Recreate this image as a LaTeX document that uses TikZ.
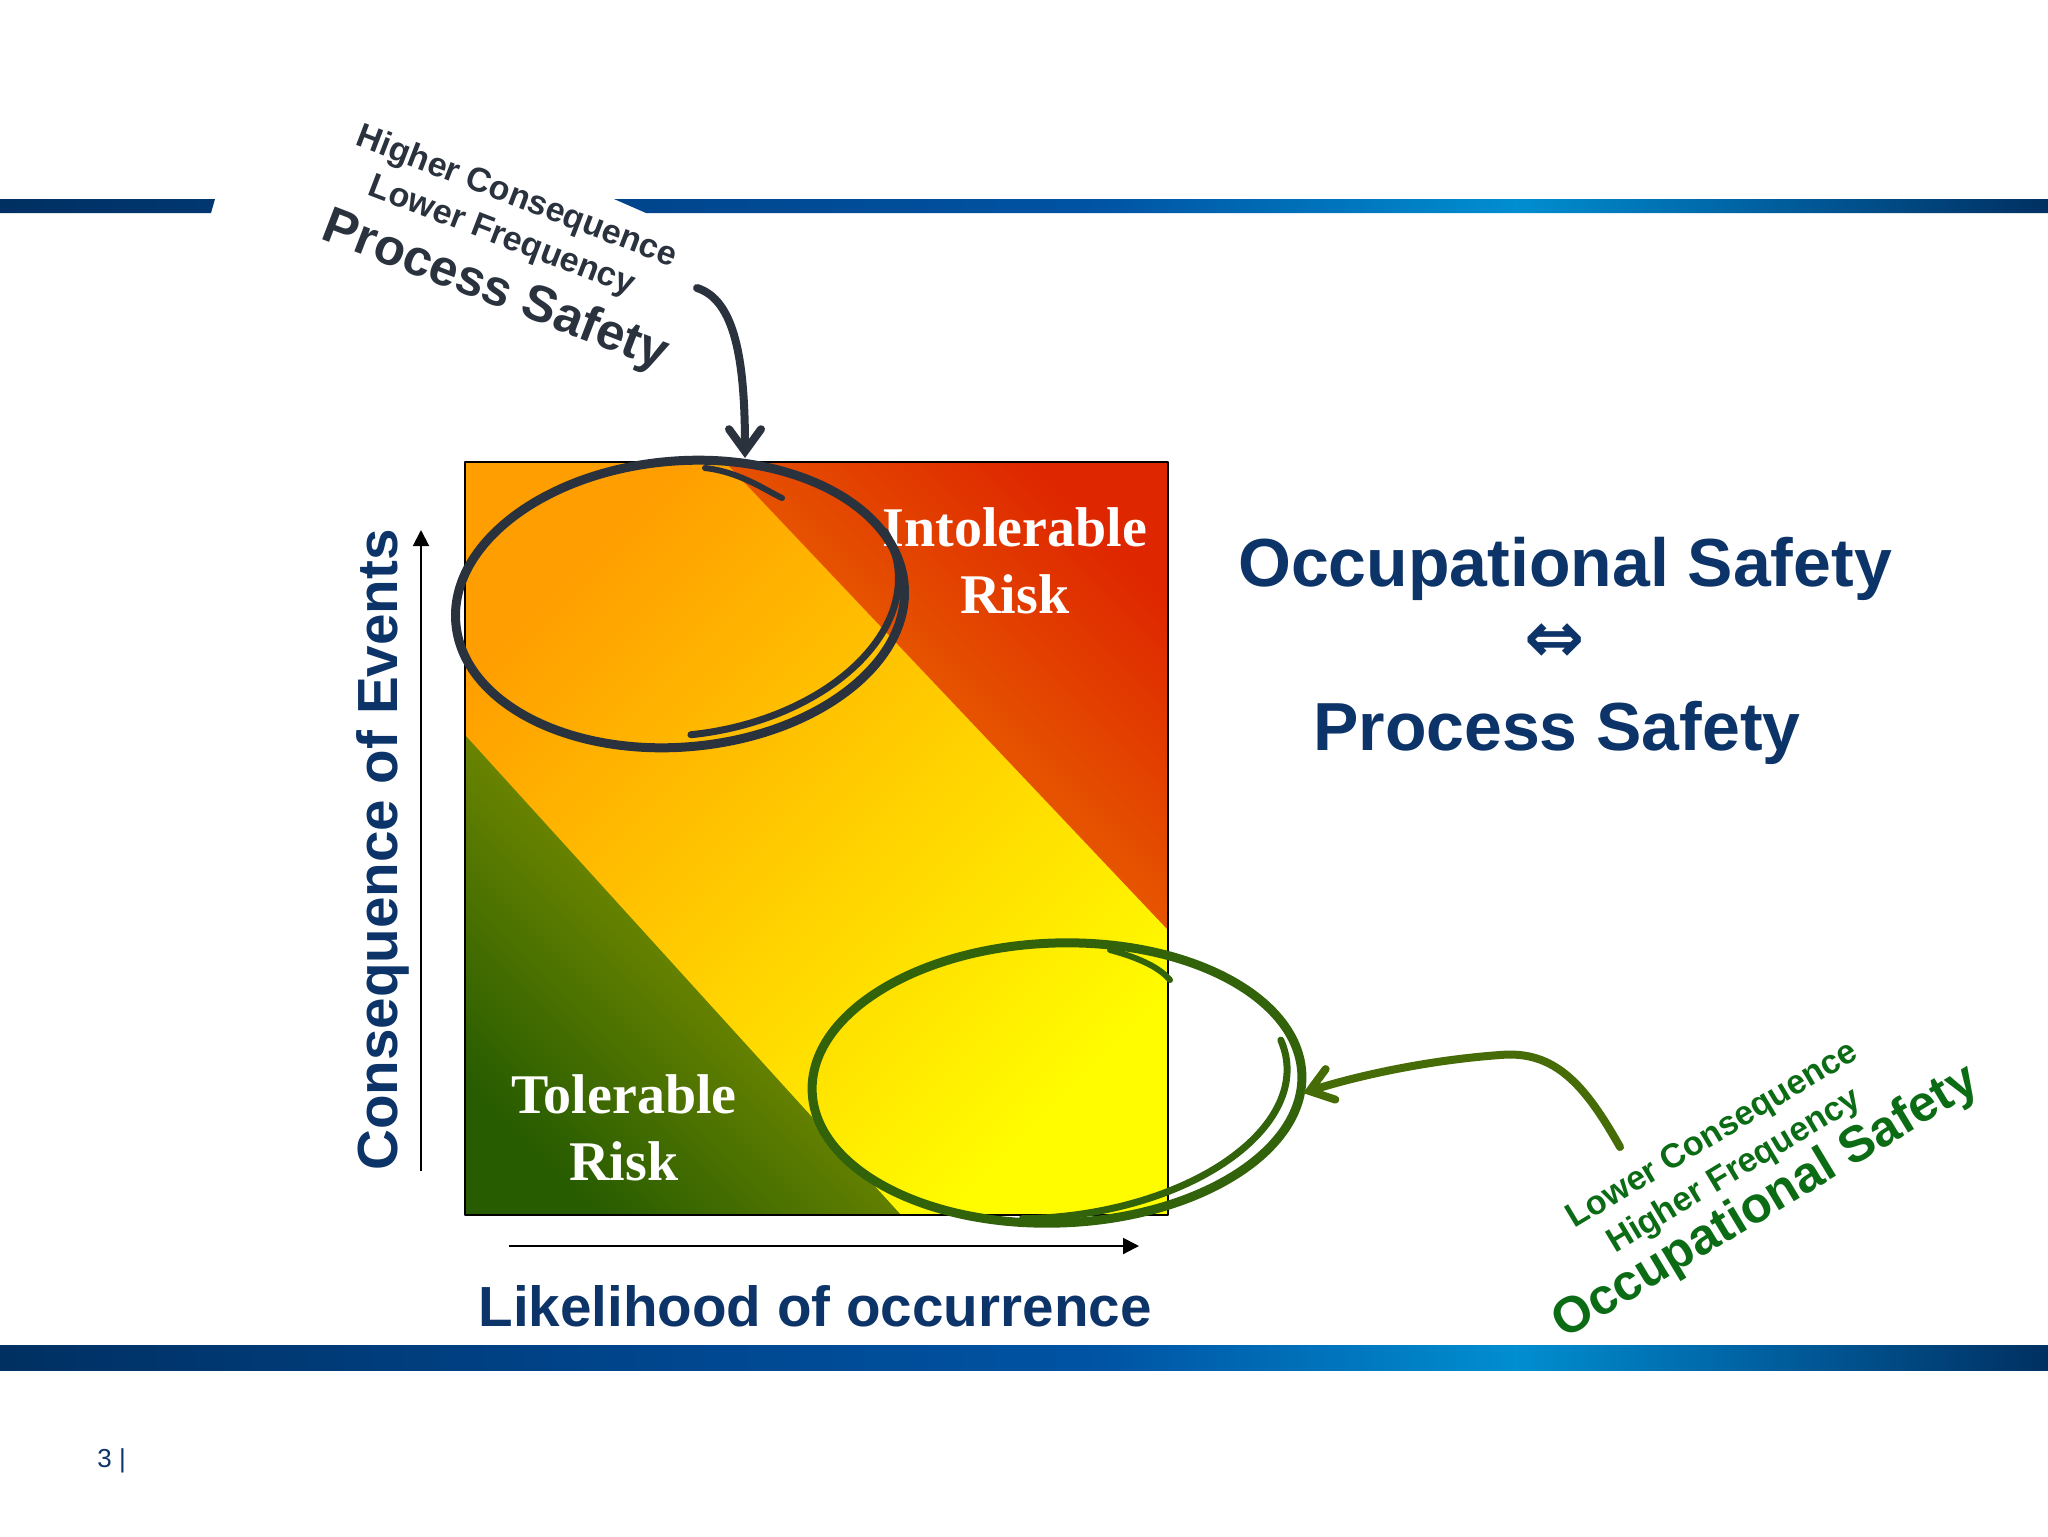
\documentclass[tikz,border=0pt]{standalone}
\usepackage{fontspec}
\setmainfont{Liberation Sans}
\newfontfamily\riskfont{Liberation Serif}
\newfontfamily\dvfont{DejaVu Sans}
\usetikzlibrary{arrows.meta,positioning}
\definecolor{slidenavy}{RGB}{12,52,104}
\definecolor{psdark}{RGB}{42,50,62}
\definecolor{osgreen}{RGB}{50,98,10}
\definecolor{osarrow}{RGB}{70,108,8}
\definecolor{ostext}{RGB}{12,108,22}
\definecolor{grndark}{RGB}{40,92,0}
\definecolor{grnolive}{RGB}{162,166,0}
\definecolor{redorange}{RGB}{238,128,0}
\definecolor{redcorner}{RGB}{222,38,0}
\definecolor{midorange}{RGB}{255,158,0}
\definecolor{midyellow}{RGB}{255,252,0}
\definecolor{bandA}{RGB}{0,48,98}
\definecolor{bandB}{RGB}{0,70,142}
\definecolor{bandC}{RGB}{0,84,164}
\definecolor{bandD}{RGB}{0,142,208}
\definecolor{bandE}{RGB}{0,96,160}
\pgfdeclarehorizontalshading{bandgrad}{100bp}{color(0bp)=(bandA); color(25bp)=(bandA); color(41bp)=(bandB); color(52bp)=(bandC); color(62bp)=(bandD); color(68bp)=(bandE); color(75bp)=(bandA); color(100bp)=(bandA)}

\begin{document}
\begin{tikzpicture}[x=0.5pt, y=0.5pt, line join=round]
\tikzstyle{title}=[font=\fontsize{34}{40}\selectfont\bfseries, text=slidenavy, inner sep=0pt]
\tikzstyle{axislabel}=[font=\fontsize{28.3}{32}\selectfont\bfseries, text=slidenavy, inner sep=0pt]
\tikzstyle{risk}=[font=\riskfont\fontsize{28}{33.5}\selectfont\bfseries, text=white, align=center, inner sep=0pt]
\tikzstyle{note}=[font=\fontsize{17}{21}\selectfont\bfseries, align=center, inner sep=0pt]
\tikzstyle{ring}=[line width=4.5pt, line cap=round]
\tikzstyle{pointer}=[line width=4pt, line cap=round, -{Straight Barb[length=11pt, width=16pt, line cap=round]}]
\tikzstyle{axis}=[line width=1pt, -{Triangle[length=8pt, width=8pt]}]
\useasboundingbox (0,0) rectangle (2048,-1536);
\fill[white] (0,0) rectangle (2048,-1536);
\shade[shading=bandgrad] (0,-199) -- (215,-199) -- (211,-213) -- (0,-213) -- cycle
  (614,-199) -- (2048,-199) -- (2048,-213) -- (646,-213) -- cycle;
\shade[shading=bandgrad] (0,-1345) rectangle (2048,-1370);
\shade[left color=midorange, right color=midyellow, shading angle=45] (465,-462) rectangle (1168,-1215);
\shade[left color=grndark, middle color=grnolive, right color=grnolive, shading angle=135] (465,-735) -- (901,-1215) -- (465,-1215) -- cycle;
\shade[left color=redorange, middle color=redorange, right color=redcorner, shading angle=135] (725,-462) -- (1168,-462) -- (1168,-930) -- cycle;
\draw[line width=0.8pt] (465,-462) rectangle (1168,-1215);
\node[risk] (intol) at (1015,-561) {Intolerable\\Risk};
\node[risk] (tol) at (624,-1128) {Tolerable\\Risk};
\coordinate (yfrom) at (421,-1171);
\coordinate (yto) at (421,-530);
\coordinate (xfrom) at (509,-1246);
\coordinate (xto) at (1139,-1246);
\draw[axis] (yfrom) -- (yto);
\draw[axis] (xfrom) -- (xto);
\node[axislabel, rotate=90, anchor=base] (yname) at (397,-850) {Consequence of Events};
\node[axislabel, anchor=base] (xname) at (815,-1326) {Likelihood of occurrence};
\draw[ring, psdark, rotate around={5:(680,-604)}] (680,-604) ellipse [x radius=225, y radius=143];
\draw[ring, psdark, line width=3.5pt, rotate around={9:(688,-598)}] (688,-598) ++(-95:212 and 136) arc [start angle=-95, end angle=15, x radius=212, y radius=136];
\draw[ring, psdark, line width=3pt] (705,-468) .. controls (740,-472) and (765,-490) .. (782,-498);
\draw[ring, osgreen, rotate around={2:(1057,-1083)}] (1057,-1083) ellipse [x radius=245, y radius=140];
\draw[ring, osgreen, line width=3.5pt, rotate around={6:(1050,-1087)}] (1050,-1087) ++(-100:238 and 130) arc [start angle=-100, end angle=10, x radius=238, y radius=130];
\draw[ring, osgreen, line width=3pt] (1110,-950) .. controls (1140,-958) and (1160,-968) .. (1170,-980);
\node[note, text=psdark, rotate=-21] (psnote) at (498,-246) {Higher Consequence\\Lower Frequency\\[6pt]{\fontsize{25.5}{28}\selectfont\hspace*{14pt}Process Safety}};
\node[note, text=ostext, rotate=31] (osnote) at (1737,-1176) {Lower Consequence\\Higher Frequency\\[1pt]{\fontsize{25.3}{30}\selectfont\hspace*{11pt}Occupational Safety}};
\coordinate (pstail) at (697,-288);
\coordinate (pstip) at (745,-458);
\coordinate (ostail) at (1620,-1147);
\coordinate (ostip) at (1303,-1093);
\draw[pointer, psdark] (pstail) .. controls (735,-300) and (745,-360) .. (pstip);
\draw[pointer, osarrow] (ostail) .. controls (1585,-1085) and (1555,-1050) .. (1500,-1055) .. controls (1430,-1060) and (1360,-1075) .. (ostip);
\node[title, anchor=base] (occtitle) at (1565,-586) {Occupational Safety};
\node[font=\dvfont\bfseries\fontsize{36}{36}\selectfont, text=slidenavy, inner sep=0pt] (swap) at (1555,-643) {⇔};
\node[title, anchor=base] (proctitle) at (1557,-750) {Process Safety};
\node[font=\fontsize{13}{15}\selectfont, text=slidenavy, anchor=base west, inner sep=0pt] (pageno) at (97,-1467) {3 |};
\end{tikzpicture}
\end{document}
